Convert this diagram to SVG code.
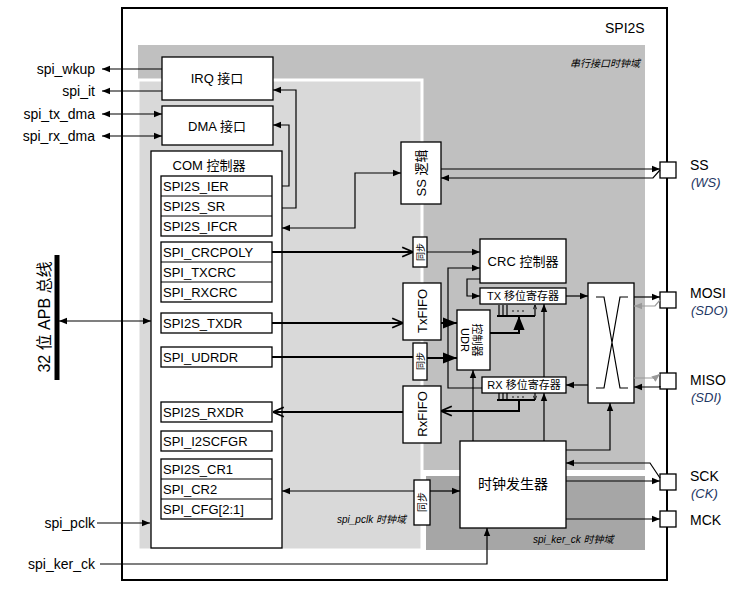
<svg xmlns="http://www.w3.org/2000/svg" width="742" height="589" viewBox="0 0 742 589">
<style>
text{font-family:"Liberation Sans","Noto Sans CJK SC",sans-serif;fill:#000}
.b{fill:#fff;stroke:#000;stroke-width:1.3}
.l{fill:none;stroke:#000;stroke-width:1.2}
.t{fill:none;stroke:#000;stroke-width:2}
.g{fill:none;stroke:#999;stroke-width:1.2}
.s{font-size:14px}
.r{font-size:13px}
.it{font-style:italic;font-size:10px}
.bl{font-style:italic;font-size:13px;fill:#1f3864}
</style>
<defs>
<marker id="a" viewBox="0 0 10 10" refX="10" refY="5" markerWidth="7" markerHeight="7" orient="auto-start-reverse"><path d="M0,1 L10,5 L0,9 z" fill="#000"/></marker>
<marker id="o" viewBox="0 0 10 10" refX="10" refY="5" markerWidth="6" markerHeight="6" orient="auto-start-reverse"><path d="M1,1 L10,5 L1,9" fill="none" stroke="#000" stroke-width="1.5"/></marker>
<marker id="ga" viewBox="0 0 10 10" refX="10" refY="5" markerWidth="7" markerHeight="7" orient="auto"><path d="M0,1 L10,5 L0,9 z" fill="#999"/></marker>
<marker id="sa" viewBox="0 0 10 10" refX="10" refY="5" markerWidth="4" markerHeight="4" orient="auto"><path d="M1,1 L10,5 L1,9" fill="none" stroke="#000" stroke-width="1.5"/></marker>
</defs>
<rect width="742" height="589" fill="#fff"/>
<g id="background">
<rect x="122" y="8" width="545" height="572" fill="#fff" stroke="#000" stroke-width="2"/>
<text x="605" y="33" class="s">SPI2S</text>
<rect x="138" y="45" width="507" height="425" fill="#c0c0c0"/>
<rect x="138" y="80" width="284" height="470" fill="#d9d9d9" stroke="#fff" stroke-width="3"/>
<rect x="426" y="476" width="219" height="74" fill="#a6a6a6"/>
<text x="570" y="67" class="it">串行接口时钟域</text>
<text x="337" y="523" class="it">spi_pclk 时钟域</text>
<text x="533" y="543" class="it">spi_ker_ck 时钟域</text>
</g>
<g id="apb">
<line x1="57" y1="255" x2="57" y2="380" stroke="#000" stroke-width="5"/>
<text transform="translate(50,317) rotate(-90)" text-anchor="middle" font-size="16">32 位 APB 总线</text>
</g>
<g id="irq"><rect x="162" y="57" width="111" height="43" class="b"/><text x="217" y="83" class="r" text-anchor="middle">IRQ 接口</text></g>
<g id="dma"><rect x="162" y="106" width="111" height="39" class="b"/><text x="217" y="131" class="r" text-anchor="middle">DMA 接口</text></g>
<g id="com">
<rect x="151" y="151" width="131" height="397" class="b"/>
<text x="209" y="170" class="r" text-anchor="middle">COM 控制器</text>
<g class="r">
<rect x="161" y="176" width="111" height="60" class="b"/><path d="M161,196H272M161,216H272" class="l"/>
<text x="163" y="191">SPI2S_IER</text><text x="163" y="211">SPI2S_SR</text><text x="163" y="231">SPI2S_IFCR</text>
<rect x="161" y="242" width="111" height="60" class="b"/><path d="M161,262H272M161,282H272" class="l"/>
<text x="163" y="257">SPI_CRCPOLY</text><text x="163" y="277">SPI_TXCRC</text><text x="163" y="297">SPI_RXCRC</text>
<rect x="161" y="313" width="111" height="20" class="b"/><text x="163" y="328">SPI2S_TXDR</text>
<rect x="161" y="347" width="111" height="20" class="b"/><text x="163" y="362">SPI_UDRDR</text>
<rect x="161" y="402" width="111" height="20" class="b"/><text x="163" y="417">SPI2S_RXDR</text>
<rect x="161" y="431" width="111" height="20" class="b"/><text x="163" y="446">SPI_I2SCFGR</text>
<rect x="161" y="459" width="111" height="60" class="b"/><path d="M161,479H272M161,499H272" class="l"/>
<text x="163" y="474">SPI2S_CR1</text><text x="163" y="494">SPI_CR2</text><text x="163" y="514">SPI_CFG[2:1]</text>
</g>
</g>
<g id="ss"><rect x="401" y="142" width="40" height="62" class="b"/><text transform="translate(426,173) rotate(-90)" class="r" text-anchor="middle">SS 逻辑</text></g>
<g id="sync1"><rect x="413" y="237" width="14" height="30" class="b"/><text transform="translate(424,252) rotate(-90)" font-size="9" text-anchor="middle">同步</text></g>
<g id="sync2"><rect x="413" y="343" width="14" height="37" class="b"/><text transform="translate(424,361) rotate(-90)" font-size="9" text-anchor="middle">同步</text></g>
<g id="sync3"><rect x="414" y="480" width="16" height="45" class="b"/><text transform="translate(426,502) rotate(-90)" font-size="10" text-anchor="middle">同步</text></g>
<g id="txfifo"><rect x="403" y="283" width="38" height="57" class="b"/><text transform="translate(427,311) rotate(-90)" class="r" text-anchor="middle">TxFIFO</text></g>
<g id="rxfifo"><rect x="403" y="386" width="38" height="57" class="b"/><text transform="translate(427,414) rotate(-90)" class="r" text-anchor="middle">RxFIFO</text></g>
<g id="crc"><rect x="480" y="239" width="86" height="44" class="b"/><text x="523" y="266" class="r" text-anchor="middle">CRC 控制器</text></g>
<g id="txsr"><rect x="480" y="288" width="86" height="16" class="b"/><text x="523" y="300" font-size="11" text-anchor="middle">TX 移位寄存器</text></g>
<g id="rxsr"><rect x="482" y="377" width="84" height="16" class="b"/><text x="524" y="389" font-size="11" text-anchor="middle">RX 移位寄存器</text></g>
<g id="udr"><rect x="457" y="310" width="33" height="60" class="b"/><text transform="translate(461,340) rotate(90)" font-size="11" text-anchor="middle">UDR</text><text transform="translate(473,340) rotate(90)" font-size="11" text-anchor="middle">控制器</text></g>
<g id="xbar"><rect x="588" y="283" width="46" height="120" class="b"/><path d="M596,297H604L620,388H628M596,388H604L620,297H628" class="l"/></g>
<g id="clkgen"><rect x="460" y="441" width="106" height="87" class="b"/><text x="513" y="489" class="s" text-anchor="middle">时钟发生器</text></g>
<g id="pins">
<rect x="660" y="162" width="16" height="16" class="b"/>
<rect x="660" y="292" width="16" height="16" class="b"/>
<rect x="660" y="373" width="16" height="16" class="b"/>
<rect x="660" y="474" width="16" height="16" class="b"/>
<rect x="660" y="511" width="16" height="16" class="b"/>
<text x="690" y="170" class="s">SS</text><text x="691" y="187" class="bl">(WS)</text>
<text x="690" y="298" class="s">MOSI</text><text x="691" y="315" class="bl">(SDO)</text>
<text x="690" y="385" class="s">MISO</text><text x="691" y="402" class="bl">(SDI)</text>
<text x="690" y="481" class="s">SCK</text><text x="691" y="498" class="bl">(CK)</text>
<text x="690" y="525" class="s">MCK</text>
</g>
<g id="left-labels" class="s" text-anchor="end">
<text x="95" y="74">spi_wkup</text><text x="95" y="96">spi_it</text>
<text x="95" y="119">spi_tx_dma</text><text x="95" y="141">spi_rx_dma</text>
<text x="95" y="528">spi_pclk</text><text x="95" y="569">spi_ker_ck</text>
</g>
<g id="connectors">
<path d="M162,69H102" class="l" marker-end="url(#a)"/>
<path d="M162,91H102" class="l" marker-end="url(#a)"/>
<path d="M102,114H162" class="l" marker-start="url(#a)" marker-end="url(#a)"/>
<path d="M102,136H162" class="l" marker-start="url(#a)" marker-end="url(#a)"/>
<path d="M59,321H151" class="l" marker-start="url(#a)" marker-end="url(#a)"/>
<path d="M97,523H150" class="l" marker-end="url(#a)"/>
<path d="M100,564H487V528" class="l" marker-end="url(#a)"/>
<path d="M282,208H296V90H273" class="l" marker-end="url(#a)"/>
<path d="M282,186H289V125H273" class="l" marker-end="url(#a)"/>
<path d="M282,228H355V173H401" class="l" marker-start="url(#a)" marker-end="url(#a)"/>
<path d="M441,169H660" class="l" marker-end="url(#a)"/>
<path d="M660,170L653,178H441" class="l" marker-end="url(#a)"/>
<path d="M272,252H413" class="t" marker-end="url(#o)"/>
<path d="M427,252H480" class="l" marker-end="url(#a)"/>
<path d="M272,323H403" class="t" marker-end="url(#o)"/>
<path d="M441,323H457" class="t" marker-end="url(#a)"/>
<path d="M272,357H413" class="t"/>
<path d="M427,358H457" class="t" marker-end="url(#a)"/>
<path d="M403,412H273" class="t" marker-end="url(#o)"/>
<path d="M482,388H448V268H480" class="l" marker-end="url(#a)"/>
<path d="M480,279H467V296H480" class="l" marker-end="url(#a)"/>
<path d="M490,333H519V316" class="t" marker-end="url(#a)"/>
<path d="M497,316H535" class="t"/>
<path d="M499,316V305M503,316V305M507,316V305M535,316V305" class="l" marker-end="url(#sa)"/>
<g fill="#000"><circle cx="513" cy="311" r="0.8"/><circle cx="518" cy="311" r="0.8"/><circle cx="523" cy="311" r="0.8"/>
<circle cx="513" cy="397" r="0.8"/><circle cx="518" cy="397" r="0.8"/><circle cx="523" cy="397" r="0.8"/></g>
<path d="M497,400H535" class="t"/>
<path d="M499,393V400M503,393V400M507,393V400M535,393V400" class="l" marker-end="url(#sa)"/>
<path d="M519,400V411H441" class="t" marker-end="url(#o)"/>
<path d="M544,441V393" class="l" marker-end="url(#a)"/>
<path d="M544,377V304" class="l" marker-end="url(#a)"/>
<path d="M473,441V370" class="l" marker-end="url(#a)"/>
<path d="M566,450H610V403" class="l" marker-end="url(#a)"/>
<path d="M566,296H588" class="l" marker-end="url(#a)"/>
<path d="M588,385H566" class="l" marker-end="url(#a)"/>
<path d="M634,297H660" class="l" marker-end="url(#a)"/>
<path d="M660,300L655,306H634" class="g" marker-end="url(#ga)"/>
<path d="M634,378H655L660,374" class="g" marker-end="url(#ga)"/>
<path d="M660,386V387H634" class="l" marker-end="url(#a)"/>
<path d="M660,478L650,463H566" class="l" marker-end="url(#a)"/>
<path d="M566,481H660" class="l" marker-end="url(#a)"/>
<path d="M566,519H660" class="l" marker-end="url(#a)"/>
<path d="M282,491H414" class="l" marker-start="url(#a)"/>
<path d="M430,491H460" class="l" marker-end="url(#a)"/>
</g>
</svg>
